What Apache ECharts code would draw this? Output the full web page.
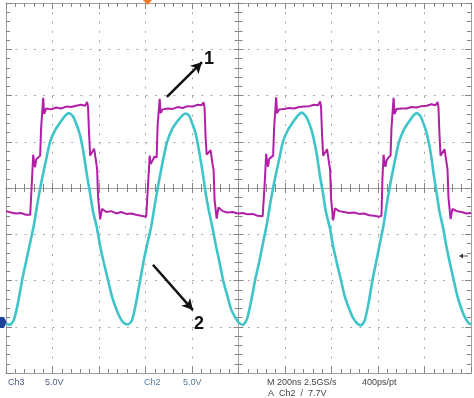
<!DOCTYPE html>
<html>
<head>
<meta charset="utf-8">
<script src="https://cdn.jsdelivr.net/npm/echarts@6/dist/echarts.min.js"></script>
<style>
html,body{margin:0;padding:0;background:#fff;}
#chart{width:474px;height:398px;}
</style>
</head>
<body>
<div id="chart"></div>
<script>
// ---- DATA (time in ns across the 10-division screen, level in divisions) ----
const ch2Time = [0,17,34,51,69,86,103,120,137,155,172,189,211,232,254,271,288,305,318,335,348,361,374,391,404,421,439,456,473,490,507,
  525,542,558,576,592,609,625,642,659,676,692,714,734,755,772,788,805,818,834,847,859,872,889,901,918,935,952,968,985,1001,
  1019,1036,1053,1071,1088,1105,1122,1139,1157,1174,1191,1213,1234,1256,1273,1290,1307,1320,1337,1350,1363,1376,1393,1406,1423,1441,1458,1475,1492,1509,
  1527,1543,1559,1576,1592,1608,1624,1640,1657,1673,1690,1710,1730,1751,1767,1783,1799,1811,1828,1840,1852,1864,1880,1893,1909,1926,1942,1958,1974,1990,2000];
const ch2Level = [-2.93,-2.96,-2.85,-2.5,-2.0,-1.6,-1.2,-0.8,-0.28,0.2,0.6,0.99,1.25,1.41,1.56,1.62,1.55,1.35,1.15,0.72,0.28,-0.1,-0.5,-0.86,-1.23,-1.62,-2.0,-2.35,-2.6,-2.8,-2.92,
  -2.95,-2.86,-2.52,-2.02,-1.58,-1.18,-0.82,-0.3,0.18,0.62,0.98,1.27,1.42,1.55,1.61,1.56,1.34,1.13,0.7,0.3,-0.12,-0.48,-0.88,-1.2,-1.6,-2.02,-2.33,-2.62,-2.79,-2.91,
  -2.96,-2.84,-2.48,-2.0,-1.62,-1.2,-0.78,-0.26,0.21,0.6,1.0,1.26,1.42,1.57,1.63,1.55,1.36,1.14,0.72,0.27,-0.1,-0.52,-0.86,-1.24,-1.62,-2.0,-2.36,-2.6,-2.8,-2.92,
  -2.97,-2.86,-2.5,-2.0,-1.6,-1.2,-0.8,-0.28,0.2,0.6,0.99,1.25,1.41,1.56,1.62,1.55,1.35,1.15,0.72,0.28,-0.1,-0.5,-0.86,-1.23,-1.62,-2.0,-2.35,-2.6,-2.8,-2.92,-2.95];

const ch3Time = [0,22,43,65,86,104,
  108,112,117,121,125,130,138,147,151,160,164,173,194,216,237,259,280,302,323,340,349,353,357,362,370,379,388,392,396,405,413,431,452,474,495,517,538,560,581,603,
  609,613,618,622,626,631,639,648,652,661,665,674,695,717,738,760,781,803,824,841,850,854,858,863,871,880,889,893,897,906,914,932,953,975,996,1018,1039,1061,1082,1104,
  1110,1114,1119,1123,1127,1132,1140,1149,1153,1162,1166,1175,1196,1218,1239,1261,1282,1304,1325,1342,1351,1355,1359,1364,1372,1381,1390,1394,1398,1407,1415,1433,1454,1476,1497,1519,1540,1562,1583,1605,
  1615,1619,1624,1628,1632,1637,1645,1654,1658,1667,1671,1680,1701,1723,1744,1766,1787,1809,1830,1847,1856,1860,1864,1869,1877,1886,1895,1899,1903,1912,1920,1938,1959,1981,2000];
const ch3Level = [-0.5,-0.53,-0.55,-0.54,-0.58,-0.58,
  -0.6,0.2,0.72,0.55,0.45,0.62,0.66,0.7,1.3,1.95,1.6,1.72,1.7,1.74,1.72,1.76,1.75,1.78,1.8,1.78,1.86,1.75,1.2,0.7,0.72,0.85,0.55,0.4,-0.2,-0.68,-0.45,-0.52,-0.5,-0.55,-0.52,-0.56,-0.55,-0.58,-0.6,-0.62,
  -0.6,0.25,0.7,0.52,0.48,0.6,0.68,0.66,1.35,1.93,1.62,1.7,1.72,1.71,1.75,1.73,1.77,1.76,1.8,1.79,1.85,1.74,1.15,0.72,0.7,0.82,0.5,0.38,-0.25,-0.66,-0.42,-0.5,-0.53,-0.52,-0.55,-0.54,-0.57,-0.56,-0.6,-0.61,
  -0.6,0.22,0.74,0.56,0.46,0.63,0.65,0.7,1.28,1.96,1.62,1.7,1.71,1.73,1.72,1.75,1.76,1.77,1.8,1.79,1.87,1.76,1.2,0.7,0.74,0.84,0.52,0.4,-0.22,-0.7,-0.44,-0.5,-0.52,-0.54,-0.53,-0.56,-0.55,-0.59,-0.6,-0.62,
  -0.6,0.2,0.72,0.54,0.46,0.6,0.66,0.7,1.3,1.95,1.6,1.71,1.72,1.72,1.75,1.74,1.77,1.78,1.81,1.79,1.86,1.75,1.2,0.7,0.72,0.84,0.54,0.4,-0.2,-0.67,-0.45,-0.5,-0.52,-0.55,-0.54];

// screen: 10 horizontal divisions of 200 ns, 8 vertical divisions
const timeRange = [0, 2000];
const divRange = [-4, 4];
const timePerDiv = 200;

// annotation arrows [start, tip] in (ns, div) and their labels
const arrow1 = [[692, 1.97], [843, 2.72]];
const arrow2 = [[632, -1.66], [804, -2.64]];
const arrowLabels = ['1', '2'];

// readout text
const readout = [
  {text: 'Ch3', x: 8, y: 383, c: '#4a5a80'},
  {text: '5.0V', x: 45, y: 383, c: '#4a5a80'},
  {text: 'Ch2', x: 144, y: 383, c: '#5a7a9a'},
  {text: '5.0V', x: 183, y: 383, c: '#5a7a9a'},
  {text: 'M 200ns 2.5GS/s', x: 267, y: 383, c: '#444'},
  {text: '400ps/pt', x: 362, y: 383, c: '#444'},
  {text: 'A  Ch2  /  7.7V', x: 268, y: 394, c: '#444'}
];

// ---- CHART ----
const zip = (a, b) => a.map((v, i) => [v, b[i]]);
const gridGray = '#a0a0a0';
const tickGray = '#858585';
const dotLine = {show: true, lineStyle: {color: '#a8a8a8', width: 1, type: [2, 7.3]}};

function xAx(pos, offset, inside, split, len) {
  return {
    type: 'value', min: timeRange[0], max: timeRange[1], interval: timePerDiv,
    position: pos, offset: offset,
    axisLine: {show: true, onZero: false, lineStyle: {color: gridGray, width: 1}},
    axisTick: {show: true, inside: inside, length: len, lineStyle: {color: tickGray}},
    minorTick: {show: true, splitNumber: 5, length: 4, lineStyle: {color: tickGray, width: 1}},
    axisLabel: {show: false},
    splitLine: split ? dotLine : {show: false}
  };
}
function yAx(pos, offset, inside, split, len) {
  return {
    type: 'value', min: divRange[0], max: divRange[1], interval: 1,
    position: pos, offset: offset,
    axisLine: {show: true, onZero: false, lineStyle: {color: gridGray, width: 1}},
    axisTick: {show: true, inside: inside, length: len, lineStyle: {color: tickGray}},
    minorTick: {show: true, splitNumber: 5, length: 4, lineStyle: {color: tickGray, width: 1}},
    axisLabel: {show: false},
    splitLine: split ? dotLine : {show: false}
  };
}

const chart = echarts.init(document.getElementById('chart'), null, {renderer: 'canvas'});

const graphics = readout.map(r => ({
  type: 'text', x: r.x, y: r.y, z: 10,
  style: {text: r.text, fill: r.c, font: '9px "Liberation Sans", Arial, sans-serif', textVerticalAlign: 'middle'}
}));
// trigger position marker (top), trigger level marker (right), ch2 ground marker (left)
graphics.push({type: 'polygon', z: 10, shape: {points: [[143, 0], [152, 0], [147.5, 5]]}, style: {fill: '#f07a22'}});
graphics.push({type: 'polygon', z: 10, shape: {points: [[459, 256], [463, 253.5], [463, 258.5]]}, style: {fill: '#333'}});
graphics.push({type: 'line', z: 10, shape: {x1: 462, y1: 256, x2: 468, y2: 256}, style: {stroke: '#555', lineWidth: 1}});
graphics.push({type: 'polygon', z: 10, shape: {points: [[0, 317], [4, 317], [6.5, 322], [4, 328], [0, 328]]}, style: {fill: '#1f3f99'}});

function arrowLine(pts, label, off) {
  return [{
    coord: pts[0], symbol: 'none'
  }, {
    coord: pts[1], symbol: 'arrow', symbolSize: [9, 11],
    label: {show: true, formatter: label, position: 'end', distance: 0, offset: off,
      color: '#111', fontSize: 18, fontWeight: 'bold', fontFamily: 'Liberation Sans, Arial'}
  }];
}

chart.setOption({
  animation: false,
  backgroundColor: '#ffffff',
  grid: {left: 6, top: 3, width: 465, height: 370},
  xAxis: [
    xAx('bottom', 0, true, true, 6),
    xAx('top', 0, true, false, 6),
    xAx('bottom', -185, true, false, 5),
    xAx('bottom', -185, false, false, 5)
  ],
  yAxis: [
    yAx('left', 0, true, true, 6),
    yAx('right', 0, true, false, 6),
    yAx('left', -232.5, true, false, 5),
    yAx('left', -232.5, false, false, 5)
  ],
  graphic: graphics,
  series: [
    {
      name: 'Ch3', type: 'line', data: zip(ch3Time, ch3Level), showSymbol: false,
      lineStyle: {color: '#b01fa6', width: 2}, z: 3,
      markLine: {
        silent: true, animation: false,
        lineStyle: {color: '#111', width: 2.5, type: 'solid'},
        data: [arrowLine(arrow1, arrowLabels[0], [7, -3]), arrowLine(arrow2, arrowLabels[1], [6, 14])]
      }
    },
    {
      name: 'Ch2', type: 'line', data: zip(ch2Time, ch2Level), showSymbol: false, smooth: 0.2,
      lineStyle: {color: '#3fc4c8', width: 2.6}, z: 4
    }
  ]
});
</script>
</body>
</html>
